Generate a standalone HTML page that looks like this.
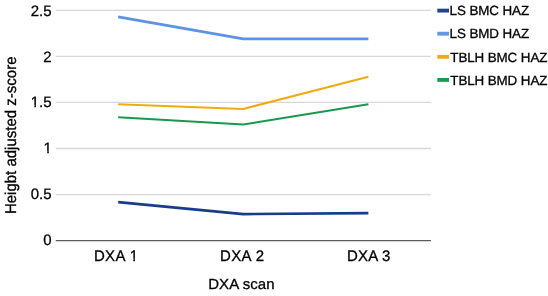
<!DOCTYPE html>
<html><head><meta charset="utf-8">
<style>
html,body{margin:0;padding:0;background:#fff;}
svg{display:block}
text{font-family:"Liberation Sans",Arial,sans-serif;fill:#000;stroke:#000;stroke-width:0.3px;}
</style></head>
<body>
<svg width="548" height="296" viewBox="0 0 548 296">
<rect width="548" height="296" fill="#fff"/>
<g stroke="#d8d8d8" stroke-width="1.3">
<line x1="55.8" x2="430.9" y1="10.4" y2="10.4"/>
<line x1="55.8" x2="430.9" y1="56.42" y2="56.42"/>
<line x1="55.8" x2="430.9" y1="102.45" y2="102.45"/>
<line x1="55.8" x2="430.9" y1="148.5" y2="148.5"/>
<line x1="55.8" x2="430.9" y1="194.55" y2="194.55"/>
</g>
<line x1="55.7" x2="430.9" y1="240.7" y2="240.7" stroke="#5c5c5c" stroke-width="1.3"/>
<g fill="none" stroke-linejoin="miter" stroke-linecap="butt">
<polyline stroke="#5e92e4" stroke-width="2.8" points="118.2,16.84 243.2,38.94 368.4,38.94"/>
<polyline stroke="#f1ab10" stroke-width="2.05" points="118.2,104.3 243.2,108.9 368.4,76.68"/>
<polyline stroke="#17994e" stroke-width="2.05" points="118.2,117.19 243.2,124.55 368.4,104.3"/>
<polyline stroke="#173d87" stroke-width="2.65" points="118.2,202.13 243.2,214.1 368.4,213.18"/>
</g>
<text transform="translate(51.6,15.68) scale(1,1.0)" font-size="15" text-anchor="end" text-rendering="geometricPrecision">2.5</text>
<text transform="translate(51.6,61.51) scale(1,1.0)" font-size="15" text-anchor="end" text-rendering="geometricPrecision">2</text>
<text transform="translate(51.6,107.34) scale(1,1.0)" font-size="15" text-anchor="end" text-rendering="geometricPrecision">1.5</text><rect transform="translate(51.6,107.34) scale(1,1.0)" x="-20.92" y="-2.32" width="3.68" height="4.12" fill="#fff"/><rect transform="translate(51.6,107.34) scale(1,1.0)" x="-15.61" y="-2.32" width="3.56" height="4.12" fill="#fff"/>
<text transform="translate(51.95,153.17) scale(1,1.0)" font-size="15" text-anchor="end" text-rendering="geometricPrecision">1</text><rect transform="translate(51.95,153.17) scale(1,1.0)" x="-8.40" y="-2.32" width="3.68" height="4.12" fill="#fff"/><rect transform="translate(51.95,153.17) scale(1,1.0)" x="-3.10" y="-2.32" width="3.56" height="4.12" fill="#fff"/>
<text transform="translate(51.6,199.0) scale(1,1.0)" font-size="15" text-anchor="end" text-rendering="geometricPrecision">0.5</text>
<text transform="translate(51.6,244.83) scale(1,1.0)" font-size="15" text-anchor="end" text-rendering="geometricPrecision">0</text>
<text transform="translate(93.9,260.65) scale(1,1.02)" font-size="15" textLength="44.1" lengthAdjust="spacing" text-rendering="geometricPrecision">DXA 1</text><rect transform="translate(93.9,260.65) scale(1,1.02)" x="35.70" y="-2.32" width="3.68" height="4.12" fill="#fff"/><rect transform="translate(93.9,260.65) scale(1,1.02)" x="41.00" y="-2.32" width="3.56" height="4.12" fill="#fff"/>
<text transform="translate(220.0,260.65) scale(1,1.02)" font-size="15" textLength="44" lengthAdjust="spacing" text-rendering="geometricPrecision">DXA 2</text>
<text transform="translate(346.9,260.65) scale(1,1.02)" font-size="15" textLength="43.4" lengthAdjust="spacing" text-rendering="geometricPrecision">DXA 3</text>
<text transform="translate(208.2,289.35) scale(1,0.98)" font-size="15" textLength="66.4" lengthAdjust="spacing" text-rendering="geometricPrecision">DXA scan</text>
<text transform="translate(15.9,135.3) rotate(-90) scale(1,1.04)" font-size="15" text-anchor="middle" text-rendering="geometricPrecision">Heigbt adjusted z-score</text>
<g stroke-width="3.85">
<line x1="437.3" x2="449" y1="10.6" y2="10.6" stroke="#1e4690"/>
<line x1="437.3" x2="449" y1="33.7" y2="33.7" stroke="#6496e7"/>
<line x1="437.3" x2="449" y1="56.8" y2="56.8" stroke="#f1ab10"/>
<line x1="437.3" x2="449" y1="79.9" y2="79.9" stroke="#17994e"/>
</g>
<text transform="translate(449.6,15.3) scale(1,0.99)" font-size="13.4" textLength="79.5" lengthAdjust="spacing" text-rendering="geometricPrecision">LS BMC HAZ</text>
<text transform="translate(449.6,38.4) scale(1,0.99)" font-size="13.4" textLength="79.5" lengthAdjust="spacing" text-rendering="geometricPrecision">LS BMD HAZ</text>
<text transform="translate(450.3,61.5) scale(1,0.99)" font-size="13.4" textLength="97.1" lengthAdjust="spacing" text-rendering="geometricPrecision">TBLH BMC HAZ</text>
<text transform="translate(450.3,84.5) scale(1,0.99)" font-size="13.4" textLength="97.1" lengthAdjust="spacing" text-rendering="geometricPrecision">TBLH BMD HAZ</text>
</svg>
</body></html>
